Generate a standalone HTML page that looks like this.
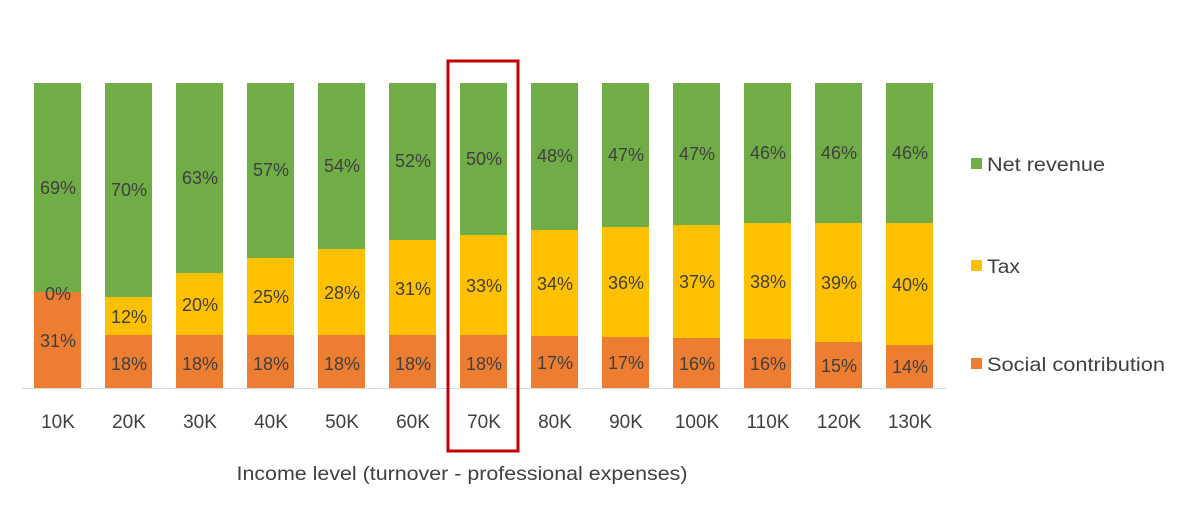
<!DOCTYPE html><html><head><style>body{margin:0;background:#fff}svg text{font-family:"Liberation Sans",sans-serif;fill:#404040}</style></head><body>
<svg width="1180" height="525" xmlns="http://www.w3.org/2000/svg">
<g font-size="18" text-anchor="middle">
<line x1="22" y1="388.5" x2="946" y2="388.5" stroke="#d9d9d9" stroke-width="1"/>
<g>
<rect x="34" y="83" width="47" height="209" fill="#70AD47"/><rect x="34" y="292" width="47" height="96" fill="#ED7D31"/>
<text x="58" y="194">69%</text><text x="58" y="300">0%</text><text x="58" y="347">31%</text><text x="58" y="428" font-size="19">10K</text>

<rect x="105" y="83" width="47" height="214" fill="#70AD47"/><rect x="105" y="297" width="47" height="38" fill="#FFC000"/><rect x="105" y="335" width="47" height="53" fill="#ED7D31"/>
<text x="129" y="196">70%</text><text x="129" y="323">12%</text><text x="129" y="370">18%</text><text x="129" y="428" font-size="19">20K</text>

<rect x="176" y="83" width="47" height="190" fill="#70AD47"/><rect x="176" y="273" width="47" height="62" fill="#FFC000"/><rect x="176" y="335" width="47" height="53" fill="#ED7D31"/>
<text x="200" y="184">63%</text><text x="200" y="311">20%</text><text x="200" y="370">18%</text><text x="200" y="428" font-size="19">30K</text>

<rect x="247" y="83" width="47" height="175" fill="#70AD47"/><rect x="247" y="258" width="47" height="77" fill="#FFC000"/><rect x="247" y="335" width="47" height="53" fill="#ED7D31"/>
<text x="271" y="176">57%</text><text x="271" y="303">25%</text><text x="271" y="370">18%</text><text x="271" y="428" font-size="19">40K</text>

<rect x="318" y="83" width="47" height="166" fill="#70AD47"/><rect x="318" y="249" width="47" height="86" fill="#FFC000"/><rect x="318" y="335" width="47" height="53" fill="#ED7D31"/>
<text x="342" y="172">54%</text><text x="342" y="299">28%</text><text x="342" y="370">18%</text><text x="342" y="428" font-size="19">50K</text>

<rect x="389" y="83" width="47" height="157" fill="#70AD47"/><rect x="389" y="240" width="47" height="95" fill="#FFC000"/><rect x="389" y="335" width="47" height="53" fill="#ED7D31"/>
<text x="413" y="167">52%</text><text x="413" y="295">31%</text><text x="413" y="370">18%</text><text x="413" y="428" font-size="19">60K</text>

<rect x="460" y="83" width="47" height="152" fill="#70AD47"/><rect x="460" y="235" width="47" height="100" fill="#FFC000"/><rect x="460" y="335" width="47" height="53" fill="#ED7D31"/>
<text x="484" y="165">50%</text><text x="484" y="292">33%</text><text x="484" y="370">18%</text><text x="484" y="428" font-size="19">70K</text>

<rect x="531" y="83" width="47" height="147" fill="#70AD47"/><rect x="531" y="230" width="47" height="106" fill="#FFC000"/><rect x="531" y="336" width="47" height="52" fill="#ED7D31"/>
<text x="555" y="162">48%</text><text x="555" y="290">34%</text><text x="555" y="369">17%</text><text x="555" y="428" font-size="19">80K</text>

<rect x="602" y="83" width="47" height="144" fill="#70AD47"/><rect x="602" y="227" width="47" height="110" fill="#FFC000"/><rect x="602" y="337" width="47" height="51" fill="#ED7D31"/>
<text x="626" y="161">47%</text><text x="626" y="289">36%</text><text x="626" y="369">17%</text><text x="626" y="428" font-size="19">90K</text>

<rect x="673" y="83" width="47" height="142" fill="#70AD47"/><rect x="673" y="225" width="47" height="113" fill="#FFC000"/><rect x="673" y="338" width="47" height="50" fill="#ED7D31"/>
<text x="697" y="160">47%</text><text x="697" y="288">37%</text><text x="697" y="370">16%</text><text x="697" y="428" font-size="19">100K</text>

<rect x="744" y="83" width="47" height="140" fill="#70AD47"/><rect x="744" y="223" width="47" height="116" fill="#FFC000"/><rect x="744" y="339" width="47" height="49" fill="#ED7D31"/>
<text x="768" y="159">46%</text><text x="768" y="288">38%</text><text x="768" y="370">16%</text><text x="768" y="428" font-size="19">110K</text>

<rect x="815" y="83" width="47" height="140" fill="#70AD47"/><rect x="815" y="223" width="47" height="119" fill="#FFC000"/><rect x="815" y="342" width="47" height="46" fill="#ED7D31"/>
<text x="839" y="159">46%</text><text x="839" y="289">39%</text><text x="839" y="372">15%</text><text x="839" y="428" font-size="19">120K</text>

<rect x="886" y="83" width="47" height="140" fill="#70AD47"/><rect x="886" y="223" width="47" height="122" fill="#FFC000"/><rect x="886" y="345" width="47" height="43" fill="#ED7D31"/>
<text x="910" y="159">46%</text><text x="910" y="291">40%</text><text x="910" y="373">14%</text><text x="910" y="428" font-size="19">130K</text>
</g>
<text x="462" y="480" font-size="19" textLength="451" lengthAdjust="spacingAndGlyphs">Income level (turnover - professional expenses)</text>
</g>
<rect x="448" y="61" width="70" height="390" fill="none" stroke="#C00000" stroke-width="3"/>
<g font-size="19">
<rect x="971" y="158" width="11" height="11" fill="#70AD47"/><text x="987" y="171" textLength="118" lengthAdjust="spacingAndGlyphs">Net revenue</text>
<rect x="971" y="260" width="11" height="11" fill="#FFC000"/><text x="987" y="273" textLength="33" lengthAdjust="spacingAndGlyphs">Tax</text>
<rect x="971" y="358" width="11" height="11" fill="#ED7D31"/><text x="987" y="371" textLength="178" lengthAdjust="spacingAndGlyphs">Social contribution</text>
</g>
</svg>
</body></html>
